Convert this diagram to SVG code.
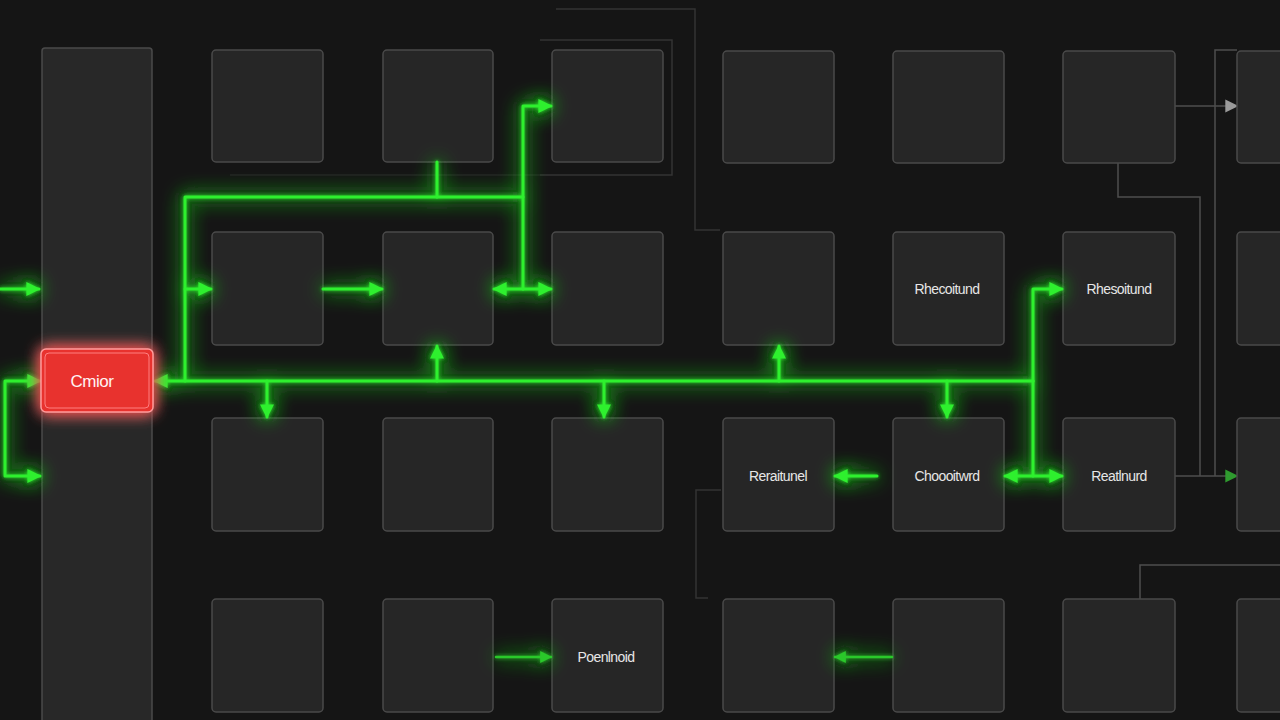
<svg xmlns="http://www.w3.org/2000/svg" width="1280" height="720" viewBox="0 0 1280 720">
<defs>
<style>
.bg{fill:#151515}
.box{fill:#262626;stroke:#4a4a4a;stroke-width:1.5}
.lane{fill:#282828;stroke:#4a4a4a;stroke-width:1.5}
.lbl{font-family:"Liberation Sans",Arial,sans-serif;font-size:14px;fill:#e6e6e6;text-anchor:middle;letter-spacing:-0.6px}
.err{fill:#e8302f;stroke:#ff9a9a;stroke-width:1.5}
.errlbl{font-family:"Liberation Sans",Arial,sans-serif;font-size:17px;fill:#fff2f2;text-anchor:middle;letter-spacing:-0.5px}
.g{fill:none;stroke:#2ef02e;stroke-width:3;stroke-linecap:round;stroke-linejoin:round}
.gd{fill:none;stroke:#2bc82b;stroke-width:2.5;stroke-linecap:round}
.thin{fill:none;stroke:#333;stroke-width:1.5}
.faint{fill:none;stroke:#242424;stroke-width:1.5}
.thin2{fill:none;stroke:#4e4e4e;stroke-width:1.5}
</style>
<marker id="ah" viewBox="0 0 10 10" refX="9" refY="5" markerWidth="14" markerHeight="15" markerUnits="userSpaceOnUse" orient="auto-start-reverse">
<path d="M0,0 L10,5 L0,10 z" fill="#2ef02e"/>
</marker>
<marker id="ahd" viewBox="0 0 10 10" refX="9" refY="5" markerWidth="12" markerHeight="12" markerUnits="userSpaceOnUse" orient="auto-start-reverse">
<path d="M0,0 L10,5 L0,10 z" fill="#2bc82b"/>
</marker>
<marker id="ahg" viewBox="0 0 10 10" refX="9" refY="5" markerWidth="13" markerHeight="14" markerUnits="userSpaceOnUse" orient="auto">
<path d="M0,0 L10,5 L0,10 z" fill="#9a9a9a"/>
</marker>
<marker id="ahgg" viewBox="0 0 10 10" refX="9" refY="5" markerWidth="13" markerHeight="14" markerUnits="userSpaceOnUse" orient="auto">
<path d="M0,0 L10,5 L0,10 z" fill="#2f9a2f"/>
</marker>
<filter id="glow" x="-20%" y="-20%" width="140%" height="140%">
<feGaussianBlur in="SourceGraphic" stdDeviation="2" result="b1"/>
<feGaussianBlur in="SourceGraphic" stdDeviation="10" result="b2"/>
<feMerge><feMergeNode in="b2"/><feMergeNode in="b2"/><feMergeNode in="b1"/><feMergeNode in="SourceGraphic"/></feMerge>
</filter>
<filter id="rglow" x="-50%" y="-80%" width="200%" height="260%">
<feGaussianBlur in="SourceGraphic" stdDeviation="8" result="b"/>
<feMerge><feMergeNode in="b"/><feMergeNode in="b"/><feMergeNode in="SourceGraphic"/></feMerge>
</filter>
</defs>
<rect class="bg" x="0" y="0" width="1280" height="720"/>

<g id="lane"><rect class="lane" x="42" y="48" width="110" height="690" rx="3"/></g>

<g id="thin-lines">
<path class="thin" d="M556,9 H695 V230 H720"/>
<path class="thin" d="M540,40 H672 V175 H540"/>
<path class="faint" d="M230,175 H540"/>
<path class="thin2" d="M1118,163 V197 H1200 V476"/>
<path class="thin2" d="M1237,50 H1215 V476"/>
<path class="thin2" d="M1175,106 H1237" marker-end="url(#ahg)"/>
<path class="thin2" d="M1175,476 H1237" marker-end="url(#ahgg)"/>
<path class="thin2" d="M1140,599 V565 H1280"/>
<path class="thin" d="M721,490 H696 V598 H708"/>
</g>

<g id="n-1-0"><rect class="box" x="212" y="50" width="111" height="112" rx="4"/></g>
<g id="n-2-0"><rect class="box" x="383" y="50" width="110" height="112" rx="4"/></g>
<g id="n-3-0"><rect class="box" x="552" y="50" width="111" height="112" rx="4"/></g>
<g id="n-4-0"><rect class="box" x="723" y="51" width="111" height="112" rx="4"/></g>
<g id="n-5-0"><rect class="box" x="893" y="51" width="111" height="112" rx="4"/></g>
<g id="n-6-0"><rect class="box" x="1063" y="51" width="112" height="112" rx="4"/></g>
<g id="n-7-0"><rect class="box" x="1237" y="51" width="60" height="112" rx="4"/></g>

<g id="n-1-1"><rect class="box" x="212" y="232" width="111" height="113" rx="4"/></g>
<g id="n-2-1"><rect class="box" x="383" y="232" width="110" height="113" rx="4"/></g>
<g id="n-3-1"><rect class="box" x="552" y="232" width="111" height="113" rx="4"/></g>
<g id="n-4-1"><rect class="box" x="723" y="232" width="111" height="113" rx="4"/></g>
<g id="n-5-1"><rect class="box" x="893" y="232" width="111" height="113" rx="4"/><text class="lbl" x="947" y="294">Rhecoitund</text></g>
<g id="n-6-1"><rect class="box" x="1063" y="232" width="112" height="113" rx="4"/><text class="lbl" x="1119" y="294">Rhesoitund</text></g>
<g id="n-7-1"><rect class="box" x="1237" y="232" width="60" height="113" rx="4"/></g>

<g id="n-1-2"><rect class="box" x="212" y="418" width="111" height="113" rx="4"/></g>
<g id="n-2-2"><rect class="box" x="383" y="418" width="110" height="113" rx="4"/></g>
<g id="n-3-2"><rect class="box" x="552" y="418" width="111" height="113" rx="4"/></g>
<g id="n-4-2"><rect class="box" x="723" y="418" width="111" height="113" rx="4"/><text class="lbl" x="778" y="481">Reraitunel</text></g>
<g id="n-5-2"><rect class="box" x="893" y="418" width="111" height="113" rx="4"/><text class="lbl" x="947" y="481">Choooitwrd</text></g>
<g id="n-6-2"><rect class="box" x="1063" y="418" width="112" height="113" rx="4"/><text class="lbl" x="1119" y="481">Reatlnurd</text></g>
<g id="n-7-2"><rect class="box" x="1237" y="418" width="60" height="113" rx="4"/></g>

<g id="n-1-3"><rect class="box" x="212" y="599" width="111" height="113" rx="4"/></g>
<g id="n-2-3"><rect class="box" x="383" y="599" width="110" height="113" rx="4"/></g>
<g id="n-3-3"><rect class="box" x="552" y="599" width="111" height="113" rx="4"/><text class="lbl" x="606" y="662">Poenlnoid</text></g>
<g id="n-4-3"><rect class="box" x="723" y="599" width="111" height="113" rx="4"/></g>
<g id="n-5-3"><rect class="box" x="893" y="599" width="111" height="113" rx="4"/></g>
<g id="n-6-3"><rect class="box" x="1063" y="599" width="112" height="113" rx="4"/></g>
<g id="n-7-3"><rect class="box" x="1237" y="599" width="60" height="113" rx="4"/></g>

<g id="connectors" filter="url(#glow)">
<path class="g" d="M0,289 H39" marker-end="url(#ah)"/>
<path class="g" d="M40,381 H5 V476 H40" marker-start="url(#ah)" marker-end="url(#ah)"/>
<path class="g" d="M155,381 H1033"  marker-start="url(#ah)"/>
<path class="g" d="M185,381 V197 H523"/>
<path class="g" d="M185,289 H211" marker-end="url(#ah)"/>
<path class="g" d="M437,162 V197"/>
<path class="g" d="M523,289 V106 H551" marker-end="url(#ah)"/>
<path class="g" d="M323,289 H382" marker-end="url(#ah)"/>
<path class="g" d="M494,289 H551" marker-start="url(#ah)" marker-end="url(#ah)"/>
<path class="g" d="M437,381 V346" marker-end="url(#ah)"/>
<path class="g" d="M779,381 V346" marker-end="url(#ah)"/>
<path class="g" d="M267,381 V417" marker-end="url(#ah)"/>
<path class="g" d="M604,381 V417" marker-end="url(#ah)"/>
<path class="g" d="M947,381 V417" marker-end="url(#ah)"/>
<path class="g" d="M1033,381 V289 H1062" marker-end="url(#ah)"/>
<path class="g" d="M1033,381 V476"/>
<path class="g" d="M1005,476 H1062" marker-start="url(#ah)" marker-end="url(#ah)"/>
<path class="g" d="M877,476 H835" marker-end="url(#ah)"/>
<path class="gd" d="M496,657 H551" marker-end="url(#ahd)"/>
<path class="gd" d="M892,657 H835" marker-end="url(#ahd)"/>
</g>

<g id="error" filter="url(#rglow)">
<rect class="err" x="41" y="349" width="112" height="63" rx="5"/>
<rect x="45" y="353" width="104" height="55" rx="4" fill="none" stroke="#ff8080" stroke-width="1"/>
</g>
<text class="errlbl" x="92" y="387">Cmior</text>
</svg>
